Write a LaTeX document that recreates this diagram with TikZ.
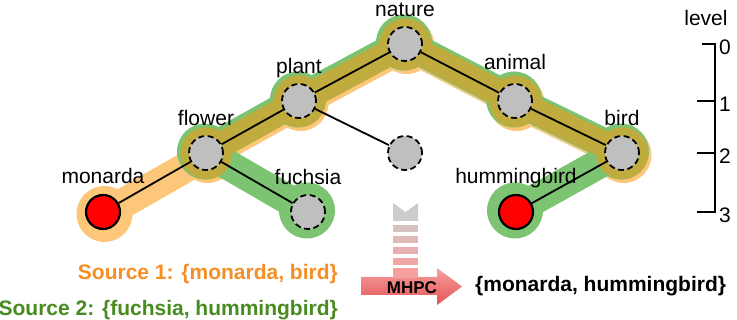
\documentclass[tikz,border=0pt]{standalone}
\usepackage{fontspec}
\setmainfont{Liberation Sans}
\usetikzlibrary{backgrounds}
\definecolor{orangeband}{RGB}{253,199,122}
\definecolor{greenband}{RGB}{124,196,114}
\definecolor{oliveband}{RGB}{192,171,62}
\definecolor{srcorange}{RGB}{246,142,38}
\definecolor{srcgreen}{RGB}{72,140,32}
\definecolor{nodegray}{RGB}{191,191,191}
\definecolor{arrowtop}{RGB}{246,160,160}
\definecolor{arrowbot}{RGB}{228,84,84}
\definecolor{notchgray}{RGB}{204,204,204}

\begin{document}
\begin{tikzpicture}[x=1pt,y=-1pt,
  every node/.style={font=\fontsize{21}{25}\selectfont},
  lblsty/.style={inner sep=0pt,anchor=base,label distance=10pt},
  inner/.style={circle,draw,fill=nodegray,minimum size=34pt,inner sep=0pt,line width=1.8pt,dash pattern=on 6pt off 3.5pt,label={[lblsty]above:#1}},
  leaf/.style={circle,draw,fill=red,minimum size=34pt,inner sep=0pt,line width=2.2pt,label={[lblsty]above:#1}},
  band/.style={line width=30pt,line cap=round,line join=round},
  edge/.style={line width=1.8pt},
  srcfont/.style={font=\bfseries\fontsize{21}{25}\selectfont,inner sep=0pt,anchor=base}]
\useasboundingbox (0,0) rectangle (737,320);
% tree
\node[inner=nature] (nature) at (405,44) {};
\node[inner=plant] (plant) at (299,101) {};
\node[circle,draw,fill=nodegray,minimum size=34pt,inner sep=0pt,line width=1.8pt,dash pattern=on 6pt off 3.5pt,label={[lblsty,label distance=14pt]above:animal}] (animal) at (515,101) {};
\node[inner=flower] (flower) at (206,153) {};
\node[inner=] (other) at (405,153) {};
\node[inner=bird] (bird) at (622,153) {};
\node[leaf=monarda] (monarda) at (103,212) {};
\node[inner=fuchsia] (fuchsia) at (308,212) {};
\node[leaf=hummingbird] (hummingbird) at (516,212) {};
\begin{scope}[on background layer]
  % source 1
  \begin{scope}[orangeband,transform canvas={shift={(1.5pt,-2pt)}}]
    \draw[band] (monarda.center)--(flower.center)--(plant.center)--(nature.center)--(animal.center)--(bird.center);
    \foreach \n in {monarda,flower,plant,nature,animal,bird} \fill (\n) circle(28pt);
  \end{scope}
  % source 2
  \begin{scope}[greenband,transform canvas={shift={(-1pt,1.5pt)}}]
    \draw[band] (fuchsia.center)--(flower.center)--(plant.center)--(nature.center)--(animal.center)--(bird.center)--(hummingbird.center);
    \foreach \n in {fuchsia,flower,plant,nature,animal,bird,hummingbird} \fill (\n) circle(28pt);
  \end{scope}
  % both
  \begin{scope}[oliveband,transform canvas={shift={(0.3pt,-0.3pt)}}]
    \draw[band,line width=26pt] (flower.center)--(plant.center)--(nature.center)--(animal.center)--(bird.center);
    \foreach \n in {flower,plant,nature,animal,bird} \fill (\n) circle(26pt);
  \end{scope}
  \draw[edge] (nature)--(plant) (plant)--(flower) (flower)--(monarda) (flower)--(fuchsia) (plant)--(other);
  \draw[edge] (nature)--(animal) (animal)--(bird) (bird)--(hummingbird);
\end{scope}
% level axis
\node (level) at (706,18) {level};
\coordinate (t0) at (702,44);\coordinate (lv0) at (715,44);
\coordinate (t1) at (697,101);\coordinate (lv1) at (715,101);
\coordinate (t2) at (697,153);\coordinate (lv2) at (715,153);
\coordinate (t3) at (697,212);\coordinate (lv3) at (715,212);
\draw[line width=1.2pt] (t0)--(lv0)--(lv3)--(t3) (t1)--(lv1) (t2)--(lv2);
\foreach \i in {0,...,3} \node[anchor=west,inner sep=0pt,xshift=4pt,yshift=-3pt] (d\i) at (lv\i) {\i};
% sources and result
\node[srcfont,text=srcorange,anchor=base east] (src1) at (338,280) {Source 1: \{monarda, bird\}};
\node[srcfont,text=srcgreen,anchor=base east] (src2) at (338,316) {Source 2: \{fuchsia, hummingbird\}};
\node[srcfont,anchor=base west] (result) at (475,292) {\{monarda, hummingbird\}};
% MHPC arrow
\shade[top color=arrowtop,bottom color=arrowbot] (361,277)--(437,277)--(437,268)--(462,286.5)--(437,305)--(437,295)--(361,295)--cycle;
\fill[notchgray] (393,203)--(405.5,212)--(418,203)--(418,221)--(393,221)--cycle;
\foreach \y/\p in {225/25,236/45,247/65,258/85} \fill[arrowtop!\p!notchgray] (393,\y) rectangle +(25,7);
\fill[arrowtop] (393,268) rectangle (418,278);
\node[font=\bfseries\fontsize{17}{20}\selectfont,inner sep=0pt,anchor=base] (mhpc) at (412,294) {MHPC};
\end{tikzpicture}
\end{document}
